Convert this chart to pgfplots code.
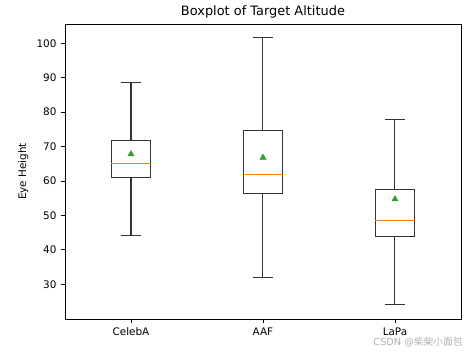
\documentclass[border=0pt]{standalone}
\usepackage{fontspec}
\setmainfont{DejaVu Sans}
\newfontfamily\cjk{Noto Sans CJK SC}
\usepackage{pgfplots}
\pgfplotsset{compat=1.18}
\definecolor{mplorange}{HTML}{FF7F0E}
\definecolor{mplgreen}{HTML}{2CA02C}
\definecolor{boxgray}{HTML}{333333}
\begin{document}
\begin{tikzpicture}
\begin{axis}[
  scale only axis,
  width=285.1pt, height=212.4pt,
  xmin=0.5, xmax=3.5, ymin=19.9, ymax=105.6,
  xtick={1,2,3}, xticklabels={CelebA,AAF,LaPa},
  ytick={30,40,50,60,70,80,90,100},
  tick align=outside, major tick length=2.6pt,
  xtick pos=left, ytick pos=left,
  tick style={black, line width=0.6pt},
  axis line style={line width=0.6pt},
  /pgf/number format/assume math mode=true,
  tick label style={font=\fontsize{7.5}{9}\selectfont},
  ylabel={Eye Height},
  every axis y label/.style={at={(axis description cs:0,0.5)}, rotate=90, anchor=center, yshift=30pt, font=\fontsize{7.5}{9}\selectfont},
  title={Boxplot of Target Altitude},
  every axis title/.style={at={(axis description cs:0.5,1)}, anchor=center, yshift=8.6pt, font=\fontsize{9.3}{11}\selectfont},
  unbounded coords=jump,
]
% CelebA: q1=60.9 q3=71.9 median=65.1 whiskers 44.3 / 88.7
\addplot[boxgray, line width=0.74pt] coordinates {
 (0.85,60.9) (1.15,60.9) (1.15,71.9) (0.85,71.9) (0.85,60.9) (nan,nan)
 (1,71.9) (1,88.7) (nan,nan) (0.925,88.7) (1.075,88.7) (nan,nan)
 (1,60.9) (1,44.3) (nan,nan) (0.925,44.3) (1.075,44.3)};
\addplot[mplorange, line width=0.74pt] coordinates {(0.85,65.1) (1.15,65.1)};
% AAF: q1=56.5 q3=74.6 median=62.0 whiskers 31.9 / 101.8
\addplot[boxgray, line width=0.74pt] coordinates {
 (1.85,56.5) (2.15,56.5) (2.15,74.6) (1.85,74.6) (1.85,56.5) (nan,nan)
 (2,74.6) (2,101.8) (nan,nan) (1.925,101.8) (2.075,101.8) (nan,nan)
 (2,56.5) (2,31.9) (nan,nan) (1.925,31.9) (2.075,31.9)};
\addplot[mplorange, line width=0.74pt] coordinates {(1.85,62.0) (2.15,62.0)};
% LaPa: q1=43.9 q3=57.5 median=48.5 whiskers 24.0 / 78.0
\addplot[boxgray, line width=0.74pt] coordinates {
 (2.85,43.9) (3.15,43.9) (3.15,57.5) (2.85,57.5) (2.85,43.9) (nan,nan)
 (3,57.5) (3,78.0) (nan,nan) (2.925,78.0) (3.075,78.0) (nan,nan)
 (3,43.9) (3,24.0) (nan,nan) (2.925,24.0) (3.075,24.0)};
\addplot[mplorange, line width=0.74pt] coordinates {(2.85,48.5) (3.15,48.5)};
% means
\addplot[only marks, mark=triangle*, mark size=2.5pt, mark options={fill=mplgreen, draw=mplgreen}] coordinates {(1,67.8) (2,66.8) (3,54.7)};
\end{axis}
\node[text=black!30, font=\fontsize{7}{8}\selectfont, anchor=center] at (254.2pt,-17pt) {CSDN @{\cjk 柴柴小面包}};
\pgfresetboundingbox
\path[use as bounding box] (-46.8pt,-24.5pt) rectangle (294.5pt,229.7pt);
\end{tikzpicture}
\end{document}
